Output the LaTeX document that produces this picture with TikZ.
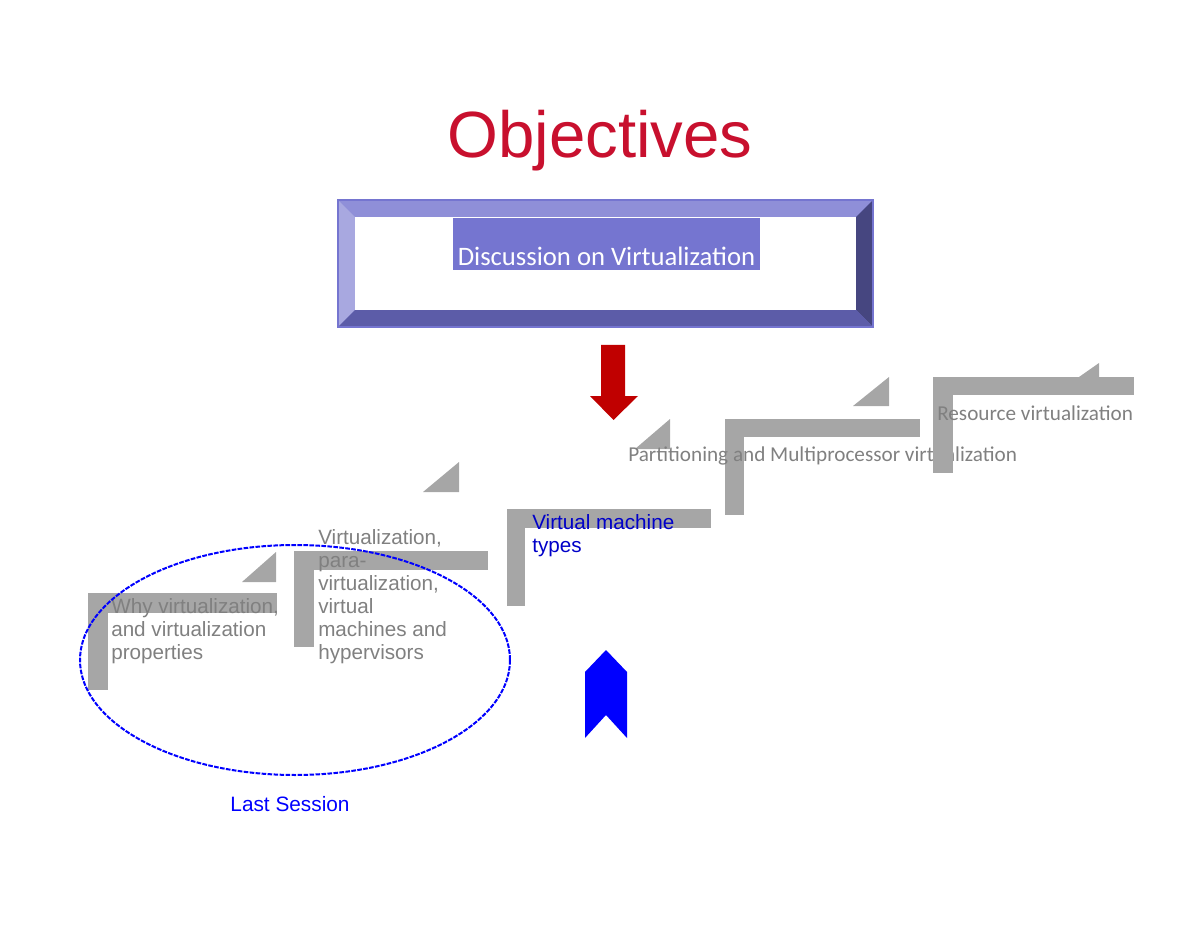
\documentclass[tikz,border=0pt]{standalone}
\usepackage{fontspec}
\setmainfont{Liberation Sans}
\newfontfamily\carl{Carlito}
\definecolor{stepgray}{HTML}{A6A6A6}
\definecolor{txtgray}{HTML}{808080}
\definecolor{titlered}{HTML}{C8102E}
\definecolor{bvmain}{HTML}{7575D0}
\definecolor{bvtop}{HTML}{8F8FD8}
\definecolor{bvleft}{HTML}{A8A8E0}
\definecolor{bvright}{HTML}{464680}
\definecolor{bvbot}{HTML}{5C5CA8}
\definecolor{arrred}{HTML}{C00000}
\definecolor{vmblue}{HTML}{0000C8}
\begin{document}
\begin{tikzpicture}[x=0.75pt,y=-0.75pt,
  bar/.style={fill=stepgray,draw=none},
  gtxt/.style={anchor=north west,inner sep=0pt,align=left,text=txtgray,font=\fontsize{15.5}{17.25}\selectfont},
  ctxt/.style={anchor=west,inner sep=0pt,text=txtgray,font=\carl\fontsize{15.9}{18}\selectfont}]
\useasboundingbox (0,0) rectangle (1200,927);
\node[text=titlered,font=\fontsize{49}{55}\selectfont] (title) at (600,141) {Objectives};
% bevel box
\fill[bvmain] (338,200) rectangle (873,327);
\fill[bvtop] (338,200) -- (873,200) -- (856,217) -- (355,217) -- cycle;
\fill[bvleft] (338,200) -- (355,217) -- (355,310) -- (338,327) -- cycle;
\fill[bvright] (873,200) -- (873,327) -- (856,310) -- (856,217) -- cycle;
\fill[bvbot] (338,327) -- (873,327) -- (856,310) -- (355,310) -- cycle;
\fill[white] (355,217) rectangle (856,310);
\draw[bvmain,line width=1.5pt] (338,200) rectangle (873,327);
\fill[bvmain] (453,218) rectangle (760,270);
\node[text=white,font=\carl\fontsize{20}{22}\selectfont,inner sep=0pt] (disc) at (606.5,256) {Discussion on Virtualization};
% red arrow
\fill[arrred] (601,345) -- (625,345) -- (625,396) -- (638,396) -- (613.5,420) -- (590,396) -- (601,396) -- cycle;
% steps
\fill[bar] (88,593) rectangle (277,613); \fill[bar] (88,593) rectangle (108,690);
\fill[bar] (242,582) -- (276,552) -- (276,582) -- cycle;
\fill[bar] (294,551) rectangle (488,570); \fill[bar] (294,551) rectangle (314,647);
\fill[bar] (423,492) -- (459,462) -- (459,492) -- cycle;
\fill[bar] (507,509) rectangle (711,528); \fill[bar] (507,509) rectangle (525,606);
\fill[bar] (635,449) -- (670,419) -- (670,449) -- cycle;
\fill[bar] (725,419) rectangle (920,437); \fill[bar] (725,419) rectangle (744,515);
\fill[bar] (853,406) -- (889,377) -- (889,406) -- cycle;
\node[ctxt] (part) at (628,456) {Partitioning and Multiprocessor virtualization};
\fill[bar] (933,377) rectangle (1134,395); \fill[bar] (933,377) rectangle (953,473);
\fill[bar] (1079,377) -- (1099,363) -- (1099,377) -- cycle;
\node[ctxt] (res) at (937,413) {Resource virtualization};
% texts
\node[gtxt] (why) at (111,598) {Why virtualization,\\and virtualization\\properties};
\node[gtxt] (virt) at (318,529) {Virtualization,\\para-\\virtualization,\\virtual\\machines and\\hypervisors};
\node[gtxt,text=vmblue] (vmt) at (532,514) {Virtual machine\\types};
% ellipse
\draw[blue,line width=1.5pt,dash pattern=on 3.5pt off 1pt] (295,660) ellipse [x radius=215,y radius=115];
\node[text=blue,font=\fontsize{15.6}{18}\selectfont] (last) at (290,804) {Last Session};
% blue chevron
\fill[blue] (606,650) -- (627,672) -- (627,738) -- (606,715) -- (585,738) -- (585,672) -- cycle;
\end{tikzpicture}
\end{document}
